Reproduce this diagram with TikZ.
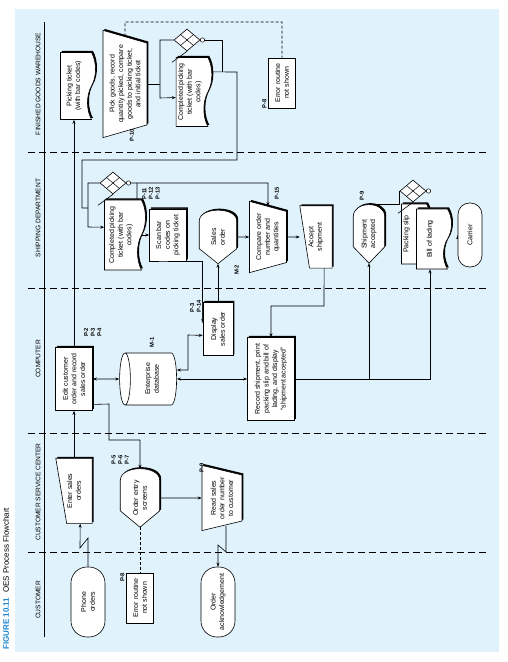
\documentclass[tikz,border=0pt]{standalone}
\usepackage{fontspec}
\setmainfont{Liberation Sans}
\usetikzlibrary{positioning, arrows.meta, calc, shapes.geometric, shapes.symbols, shadows}

\definecolor{lanebg}{RGB}{224,242,252}
\definecolor{figblue}{RGB}{24,132,206}

\pgfdeclarelayer{back}
\pgfdeclarelayer{lines}
\pgfdeclarelayer{outline}
\pgfsetlayers{back,lines,outline,main}

\newcommand{\boxfont}{\fontsize{7}{8.6}\selectfont}
\newcommand{\headfont}{\fontsize{6.6}{8}\selectfont}
\newcommand{\plabfont}{\fontsize{5.8}{6.6}\selectfont\bfseries}
\newcommand{\capfont}{\fontsize{8}{9}\selectfont}

\tikzset{
	arrow/.style={
		draw=black,
		line width=0.6pt,
		->
	},
	twoway/.style={arrow, <->},
	flow/.style={draw=black, line width=0.6pt},
	errline/.style={draw=black, line width=0.6pt, dash pattern=on 3pt off 2pt},
	lanediv/.style={draw=black, line width=0.8pt, dash pattern=on 7pt off 4pt},
	dshadow/.style={drop shadow={shadow xshift=1.5pt, shadow yshift=1.5pt, fill=black, opacity=1}},
	box/.style={draw=black, line width=0.6pt, fill=white, align=center, font=\boxfont, inner sep=2pt},
	proc/.style={box, tape, tape bend top=none, tape bend bottom=none, dshadow},
	term/.style={box, rectangle, rounded corners=16pt},
	doc/.style={box, tape, tape bend top=none, tape bend bottom=out and in, tape bend height=8pt, dshadow},
	manop/.style={box, trapezium, shape border rotate=180, trapezium left angle=70, trapezium right angle=70, trapezium stretches body, dshadow},
	disk/.style={box, cylinder, shape border rotate=90, aspect=0.3},
	note/.style={box, rectangle},
	bare/.style={rectangle, align=center, font=\boxfont, inner sep=1pt},
	shapeline/.style={draw=black, line width=0.6pt, fill=white, dshadow},
	filesym/.style={diamond, draw=black, line width=0.6pt, fill=white, inner sep=0pt, minimum width=22pt, minimum height=26pt},
	plab/.style={font=\plabfont, align=left, inner sep=0pt},
	lanehead/.style={font=\headfont, inner sep=0pt},
}

% display symbol: point on the left, round on the right
\newcommand{\dispshape}[1]{%
	\begin{pgfonlayer}{outline}
	\draw[shapeline] (#1.west) -- ($(#1.north west)!0.28!(#1.north east)$) -- ($(#1.north west)!0.8!(#1.north east)$)
		.. controls ($(#1.north west)!1.07!(#1.north east)$) and ($(#1.south west)!1.07!(#1.south east)$) .. ($(#1.south west)!0.8!(#1.south east)$)
		-- ($(#1.south west)!0.28!(#1.south east)$) -- cycle;
	\end{pgfonlayer}
}
% manual input: sloped top
\newcommand{\maninshape}[1]{%
	\begin{pgfonlayer}{outline}
	\draw[shapeline] (#1.south west) -- (#1.south east) -- (#1.north east) -- ($(#1.north west)!0.3!(#1.south west)$) -- cycle;
	\end{pgfonlayer}
}
% cross and ring of the file mark
\newcommand{\filemark}[1]{%
	\draw[line width=0.5pt] (#1.north west) -- (#1.south east) (#1.north east) -- (#1.south west);
	\draw[line width=0.5pt, fill=white] (#1.south) ++(0,-2.2) circle[radius=2.2pt];
}

\begin{document}
\begin{tikzpicture}[x=1pt, y=1pt, >={Stealth[length=4pt,width=3pt]}]
\begin{scope}[rotate=90, transform shape]
\useasboundingbox (0,0) rectangle (662,508);

% Lanes
\begin{pgfonlayer}{back}
\fill[lanebg] (10,9) rectangle (653,493);
\draw[line width=0.8pt] (25,464) -- (640,464);
\foreach \lx in {110,229,374,510}
	\draw[lanediv] (\lx,480) -- (\lx,21);
\end{pgfonlayer}

\node[anchor=west, font=\capfont, inner sep=0pt] (caption) at (12,502) {\textcolor{figblue}{\bfseries FIGURE 10.11}\hspace{5pt}OES Process Flowchart};

\node[lanehead] (hcust) at (62,470) {CUSTOMER};
\node[lanehead] (hcsc) at (170,470) {CUSTOMER SERVICE CENTER};
\node[lanehead] (hcomp) at (303,470) {COMPUTER};
\node[lanehead] (hship) at (444,470) {SHIPPING DEPARTMENT};
\node[lanehead] (hfgw) at (578,470) {FINISHED GOODS WAREHOUSE};

% Customer
\node[term, minimum width=70pt, minimum height=34pt] (phone) at (60,420) {Phone\\orders};
\node[note, minimum width=50pt, minimum height=27pt] (err1) at (64,368) {Error routine\\not shown};
\node[plab, above=1.5pt of err1.north east, anchor=south east] (p8a) {P-8};
\node[term, minimum width=70pt, minimum height=34pt] (ack) at (60,290) {Order\\acknowledgement};

% Customer service center
\node[bare, minimum width=65pt, minimum height=36pt] (enter) at (171,434) {Enter sales\\orders};
\maninshape{enter}
\node[bare, minimum width=58pt, minimum height=39pt] (ordscr) at (164,368) {Order entry\\screens};
\dispshape{ordscr}
\node[plab, right=4pt of ordscr.north east] (p567) {P-5\\P-6\\P-7};
\node[manop, minimum width=63pt, minimum height=40pt] (read) at (164,286) {Read sales\\order number\\to customer};
\node[plab, right=5pt of read.north east] (p9a) {P-9};

% Computer
\node[proc, minimum width=63pt, minimum height=37pt] (edit) at (283,434) {Edit customer\\order and record\\sales order};
\node[plab, right=10pt of edit.south east] (p234) {P-2\\P-3\\P-4};
\node[disk, minimum width=52pt, minimum height=57pt] (db) at (283,356) {Enterprise\\database};
\node[plab, right=5pt of db.east] (m1) {M-1};
\node[proc, minimum width=53pt, minimum height=30pt] (disp) at (333,290) {Display\\sales order};
\node[plab, anchor=south west] (p314) at (349,307) {P-3\\P-14};
\node[proc, minimum width=83pt, minimum height=47pt] (rec) at (283,237) {Record shipment, print\\packing slip and bill of\\lading, and display\\``shipment accepted''};

% Shipping department
\node[doc, minimum width=70pt, minimum height=41pt] (doc1) at (427,387) {Completed picking\\ticket (with bar\\codes)};
\node[filesym] (diam1) at (479,395) {};
\filemark{diam1}
\node[proc, minimum width=52pt, minimum height=37pt] (scan) at (427,340) {Scan bar\\codes on\\picking ticket};
\node[plab, anchor=west] (p1113) at (462,357) {P-11\\P-12\\P-13};
\node[bare, minimum width=53pt, minimum height=37pt] (sales) at (425,290) {Sales\\order};
\dispshape{sales}
\node[plab, left=1pt of sales.south west] (m2) {M-2};
\node[manop, minimum width=63pt, minimum height=37pt] (cmp) at (425,240) {Compare order\\number and\\quantities};
\node[plab, anchor=west] (p15) at (462,231) {P-15};
\node[bare, minimum width=62pt, minimum height=32pt] (acc) at (425,192) {Accept\\shipment};
\maninshape{acc}
\node[bare, minimum width=58pt, minimum height=31pt] (shipacc) at (428,139) {Shipment\\accepted};
\dispshape{shipacc}
\node[plab, anchor=west] (p9b) at (461,146) {P-9};
\node[filesym] (diam3) at (471,95) {};
\filemark{diam3}
\node[doc, minimum width=60pt, minimum height=25pt, text height=5pt, text depth=12pt] (pack) at (428,96) {Packing slip};
\node[doc, minimum width=60pt, minimum height=35pt] (bill) at (423,78) {Bill of lading};
\node[term, rounded corners=11.5pt, minimum width=64pt, minimum height=24pt] (carrier) at (427,38) {Carrier};

% Finished goods warehouse
\node[doc, minimum width=67pt, minimum height=35pt] (ptick) at (576,434) {Picking ticket\\(with bar codes)};
\node[manop, minimum width=107pt, minimum height=44pt] (pick) at (578,383) {Pick goods, record\\quantity picked, compare\\goods to picking ticket,\\and initial ticket};
\node[plab, anchor=west] (p10) at (520,376) {P-10};
\node[doc, minimum width=69pt, minimum height=34pt] (fgwdoc) at (570,318) {Completed picking\\ticket (with bar\\codes)};
\node[filesym] (fgwdiam) at (622,321) {};
\filemark{fgwdiam}
\node[note, minimum width=50pt, minimum height=27pt] (err2) at (579,226) {Error routine\\not shown};
\node[plab, above=1.5pt of err2.north west, anchor=south west] (p8b) {P-8};

\draw[flow] (fgwdiam.west) -- ++(-11,15);
\draw[flow] (diam1.west) -- ++(-11,15);
\draw[flow] (diam3.west) -- ++(-11,15);

% Connectors
\begin{pgfonlayer}{lines}
\coordinate (jship) at (283,139);
\draw[arrow] (phone.east) -- (124,420) -- (114,428) -- ($(enter.south west)!0.33!(enter.north west)$);
\draw[errline] (ordscr.west) -- (err1.east);
\draw[arrow] (read.west) ++(0,-4) -- (110,282) -- (117,290) -- (ack.east);
\draw[arrow] (ordscr.south) -- (read.north);
\draw[arrow] (enter.east) -- (edit.west);
\draw[arrow] ($(edit.south west)!0.1!(edit.south east)$) -- (258,399) -- (222,399) -- (222,368) -- (ordscr.east);

\draw[twoway] (edit.south) -- (db.north);
\draw[twoway] (db.south) -- (rec.north);
\draw[twoway] (db.south) ++(9,0) -- (292,320) -- (327,320) -- ($(disp.north west)!0.38!(disp.north east)$);
\draw[arrow] (scan.west) |- ($(disp.north west)!0.61!(disp.north east)$);
\draw[arrow] (disp.east) -- (sales.west);
\draw[arrow] (sales.south) -- (cmp.north);
\draw[arrow] (doc1.south) -- (scan.north);
\draw[arrow] (cmp.south) -- (acc.north);
\draw[arrow] ($(acc.south west)!0.25!(acc.north west)$) -- (356,184) -- (356,237) -- (rec.east);
\draw[arrow] (rec.south) -- (283,78) -- (bill.west);
\draw[arrow] (jship) -- (shipacc.west);
\draw[flow] (shipacc.east) |- (diam3.north);
\draw[arrow] (carrier.north -| bill.south) -- (carrier.north);

\draw[arrow] (edit.east) -- (ptick.west);
\draw[arrow] (ptick.south) -- (ptick.south -| pick.north);
\draw[flow] (pick.south) -- ++(0,-13);
\draw[arrow] (fgwdiam.north) -- (622,348) -- (564,348) -- ($(fgwdoc.north west)!0.42!(fgwdoc.north east)$);
\draw[flow] (fgwdiam.south) -- (622,286) -- (590,286);
\draw[flow] ($(fgwdoc.west)!0.79!(fgwdoc.east)$) -- (590,271) -- (502,271) -- (502,426) -- (454,426) -- (454,420);
\draw[arrow] (diam1.north) -- (479,420) -- (435,420) -- ($(doc1.north west)!0.61!(doc1.north east)$);
\draw[flow] ($(doc1.west)!0.9!(doc1.east)$) -- (455,371) -- (479,371);
\draw[arrow] (diam1.south) -- (479,240) -- (cmp.east);

\draw[errline] (pick.east) -- (640,383) -- (640,226) -- (err2.east);
\draw[errline] (err2.west) -- (cmp.center -| err2.west);
\end{pgfonlayer}

\end{scope}
\end{tikzpicture}
\end{document}
